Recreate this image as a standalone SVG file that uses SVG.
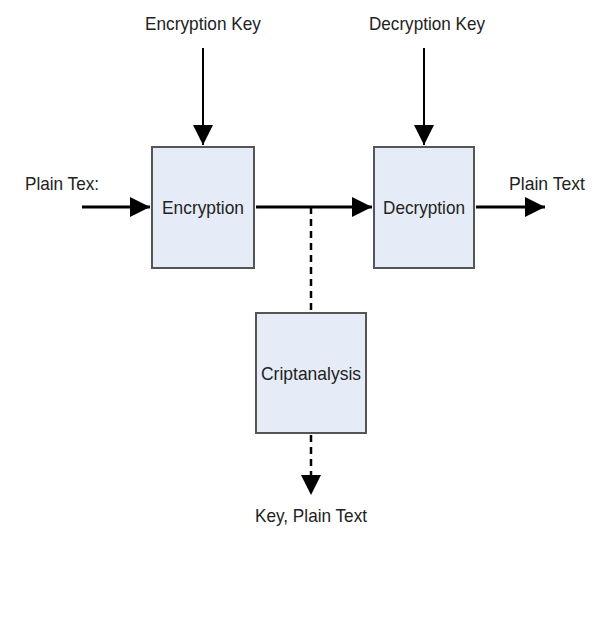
<svg xmlns="http://www.w3.org/2000/svg" width="600" height="640" viewBox="0 0 600 640">
<style>
.box{fill:#e6ecf7;stroke:#555;stroke-width:2}
.t{font-family:"Liberation Sans",Arial,sans-serif;font-size:19px;fill:#222;text-anchor:middle}
.ln{stroke:#000;stroke-width:3;fill:none}
.th{stroke:#000;stroke-width:2;fill:none}
.d{stroke:#000;stroke-width:2.5;fill:none;stroke-dasharray:7,5}
</style>
<defs>
<marker id="a" viewBox="0 0 10 10" refX="10" refY="5" markerWidth="5" markerHeight="5" orient="auto" markerUnits="userSpaceOnUse" >
<path d="M0,0L10,5L0,10z" fill="#000"/>
</marker>
<marker id="b" viewBox="0 0 10 10" refX="10" refY="5" markerWidth="22" markerHeight="20" orient="auto" markerUnits="userSpaceOnUse">
<path d="M0,0L10,5L0,10z" fill="#000"/>
</marker>
</defs>
<rect width="600" height="640" fill="#fff"/>
<g id="connectors">
<path class="th" d="M203,48V145" marker-end="url(#b)"/>
<path class="th" d="M424,48V145" marker-end="url(#b)"/>
<path class="ln" d="M82,207H150" marker-end="url(#b)"/>
<path class="ln" d="M256,207H372" marker-end="url(#b)"/>
<path class="ln" d="M476,207H545" marker-end="url(#b)"/>
<path class="d" d="M311,207V311"/>
<path class="d" d="M311,435V495" marker-end="url(#b)"/>
</g>
<g id="encryption"><rect class="box" x="152" y="147" width="102" height="121"/><text class="t" x="203" y="214" textLength="82" lengthAdjust="spacingAndGlyphs">Encryption</text></g>
<g id="decryption"><rect class="box" x="374" y="147" width="100" height="121"/><text class="t" x="424" y="214" textLength="82" lengthAdjust="spacingAndGlyphs">Decryption</text></g>
<g id="criptanalysis"><rect class="box" x="256" y="313" width="110" height="120"/><text class="t" x="311" y="380" textLength="100" lengthAdjust="spacingAndGlyphs">Criptanalysis</text></g>
<g id="labels">
<text class="t" x="203" y="30" textLength="116" lengthAdjust="spacingAndGlyphs">Encryption Key</text>
<text class="t" x="427" y="30" textLength="116" lengthAdjust="spacingAndGlyphs">Decryption Key</text>
<text class="t" x="62" y="190" textLength="74" lengthAdjust="spacingAndGlyphs">Plain Tex:</text>
<text class="t" x="547" y="190" textLength="76" lengthAdjust="spacingAndGlyphs">Plain Text</text>
<text class="t" x="311" y="522" textLength="112" lengthAdjust="spacingAndGlyphs">Key, Plain Text</text>
</g>
</svg>
